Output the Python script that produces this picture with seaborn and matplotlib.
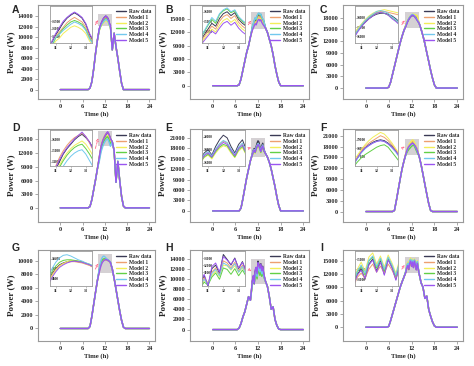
import numpy as np
import pandas as pd
import matplotlib
matplotlib.use("Agg")
import matplotlib.pyplot as plt
import seaborn as sns
from matplotlib.patches import Rectangle

# ---------------- data ----------------
HOURS_AM = [0, 5, 5.5, 6, 6.5, 7, 7.5, 8, 8.5, 9, 9.5, 10]
HOURS_WIN = [10.5, 10.75, 11, 11.25, 11.5, 11.75, 12, 12.25, 12.5, 12.75, 13, 13.25, 13.5]
HOURS_PM = [14, 14.5, 15, 15.5, 16, 16.5, 17, 17.5, 18, 18.5, 19, 24]

SERIES = ["Raw data", "Model 1", "Model 2", "Model 3", "Model 4", "Model 5"]
COLORS = ["#3a3a55", "#eda070", "#f2ee5a", "#62d046", "#72c8ee", "#9a55f0"]
PANEL_LETTERS = ["A", "B", "C", "D", "E", "F", "G", "H", "I"]
X_TICKS = [0, 6, 12, 18, 24]
INSET_X_TICKS = [11, 12, 13]

# Panel A
A_AM = [0, 0, 0, 0, 0, 0, 0, 300, 1500, 4000, 7000, 9500]
A_PM = [7600, 10800, 8200, 6000, 3500, 1200, 0, 0, 0, 0, 0, 0]
A_WIN = [
    [11600, 12100, 12600, 13000, 13400, 13700, 13900, 14050, 13900, 13700, 13300, 12600, 12200],
    [11500, 12000, 12500, 12800, 13100, 13400, 13600, 13750, 13600, 13450, 13100, 12500, 12100],
    [11300, 11800, 12200, 12400, 12700, 12900, 13100, 13200, 13100, 12950, 12700, 12200, 11900],
    [11400, 11900, 12400, 12700, 13000, 13250, 13450, 13550, 13450, 13300, 12950, 12400, 12000],
    [11500, 12000, 12450, 12650, 12900, 13100, 13300, 13450, 13350, 13200, 12900, 12350, 12000],
    [11700, 12200, 12700, 13100, 13500, 13750, 13950, 14100, 13950, 13750, 13350, 12700, 12250],
]
# Panel B
B_AM = [0, 0, 0, 0, 0, 200, 1500, 3500, 5500, 7500, 9000, 11000]
B_PM = [13000, 12000, 10500, 9000, 7000, 4500, 2500, 800, 0, 0, 0, 0]
B_WIN = [
    [13000, 13600, 14200, 14800, 14500, 15300, 15800, 16000, 15600, 15900, 15200, 14800, 14500],
    [12800, 13400, 14000, 14500, 14200, 15000, 15500, 15700, 15300, 15600, 14900, 14500, 14200],
    [12600, 13200, 13700, 14200, 13900, 14600, 15100, 15300, 14900, 15200, 14600, 14200, 13900],
    [13200, 13900, 14600, 15200, 14800, 15700, 16100, 16300, 15900, 16100, 15400, 15000, 14700],
    [13300, 14000, 14700, 15400, 15000, 15800, 16200, 16400, 16000, 16200, 15500, 15100, 14800],
    [12500, 13000, 13500, 14000, 13700, 14300, 14800, 15000, 14600, 14900, 14300, 13900, 13600],
]
# Panel C
C_AM = [0, 0, 0, 200, 1500, 3500, 5500, 7500, 9500, 11500, 13200, 14700]
C_PM = [16500, 15000, 13300, 11300, 9000, 6800, 4500, 2500, 800, 0, 0, 0]
C_WIN = [
    [16000, 16600, 17100, 17500, 17900, 18200, 18400, 18500, 18500, 18400, 18200, 17900, 17500],
    [16100, 16700, 17200, 17700, 18100, 18400, 18600, 18700, 18700, 18600, 18500, 18400, 18300],
    [16200, 16800, 17300, 17800, 18200, 18500, 18700, 18800, 18900, 18800, 18700, 18600, 18500],
    [15800, 16500, 17100, 17600, 18000, 18300, 18500, 18600, 18500, 18300, 18000, 17700, 17300],
    [15900, 16600, 17200, 17700, 18100, 18400, 18700, 18800, 18700, 18500, 18100, 17800, 17400],
    [15700, 16400, 17000, 17500, 17900, 18200, 18500, 18600, 18500, 18300, 17900, 17600, 17200],
]
# Panel D
D_AM = [0, 0, 0, 0, 0, 0, 0, 300, 1800, 4000, 6200, 8600]
D_PM = [14500, 12500, 5600, 10200, 6000, 2500, 400, 0, 0, 0, 0, 0]
D_WIN = [
    [11000, 12300, 13300, 14000, 14700, 15200, 15600, 16000, 16300, 16500, 16200, 15800, 15200],
    [11200, 12500, 13600, 14400, 15000, 15500, 15900, 16200, 16400, 16600, 16300, 15700, 15000],
    [10800, 12000, 13000, 13700, 14300, 14800, 15200, 15500, 15700, 15900, 15600, 15100, 14500],
    [10600, 11800, 12800, 13500, 14100, 14600, 15000, 15300, 15500, 15600, 15200, 14700, 14100],
    [10200, 11300, 12300, 13000, 13600, 14100, 14500, 14800, 15000, 15100, 14700, 14100, 13500],
    [11100, 12400, 13500, 14200, 14800, 15300, 15700, 16100, 16400, 16700, 16300, 15800, 15100],
]
# Panel E
E_AM = [0, 0, 0, 0, 0, 0, 800, 3500, 6500, 9500, 12000, 14500]
E_PM = [16500, 15500, 14000, 12000, 9500, 7000, 4000, 1500, 0, 0, 0, 0]
E_WIN = [
    [16500, 17500, 18000, 17200, 18500, 19500, 20200, 19800, 18500, 17500, 18800, 19500, 18000],
    [16300, 17200, 17600, 17000, 18000, 18800, 19300, 19000, 18000, 17200, 18300, 18900, 17600],
    [16000, 16800, 17200, 16600, 17500, 18200, 18600, 18400, 17500, 16800, 17800, 18300, 17200],
    [16100, 16900, 17300, 16800, 17700, 18400, 18800, 18600, 17700, 16900, 18000, 18500, 17300],
    [16400, 17300, 17700, 17100, 18100, 18900, 19400, 19100, 18100, 17300, 18400, 19000, 17700],
    [16200, 17100, 17500, 16900, 17900, 18600, 19100, 18800, 17900, 17100, 18200, 18700, 17500],
]
# Panel F
F_AM = [0, 0, 0, 0, 0, 0, 300, 3000, 6000, 9000, 11800, 14000]
F_PM = [15300, 13000, 10300, 7500, 4800, 2200, 300, 0, 0, 0, 0, 0]
F_WIN = [
    [16000, 16800, 17500, 18000, 18400, 18700, 18900, 19000, 18900, 18600, 18200, 17700, 17000],
    [16100, 16900, 17600, 18200, 18600, 18900, 19200, 19500, 19300, 18900, 18400, 17800, 17100],
    [16300, 17100, 17800, 18400, 18900, 19300, 19600, 19900, 19700, 19200, 18600, 17900, 17200],
    [15700, 16300, 16800, 17200, 17500, 17800, 18100, 18300, 18400, 18100, 17500, 16900, 16300],
    [15900, 16700, 17400, 17900, 18300, 18600, 18800, 18900, 18800, 18500, 18000, 17500, 16800],
    [16000, 16800, 17500, 18000, 18300, 18600, 18800, 18900, 18800, 18500, 18100, 17600, 16900],
]
# Panel G
G_AM = [0, 0, 0, 0, 0, 0, 0, 300, 1800, 3600, 5400, 7100]
G_PM = [8800, 7400, 5800, 4200, 2600, 1200, 200, 0, 0, 0, 0, 0]
G_WIN = [
    [8600, 9200, 9600, 9900, 10050, 10150, 10200, 10200, 10150, 10100, 10000, 9900, 9700],
    [8500, 9100, 9550, 9850, 10000, 10100, 10150, 10150, 10100, 10050, 9950, 9850, 9700],
    [8400, 9000, 9450, 9800, 10000, 10150, 10250, 10250, 10200, 10100, 10000, 9900, 9750],
    [8700, 9350, 9800, 10100, 10250, 10300, 10300, 10250, 10200, 10150, 10050, 9950, 9800],
    [8900, 9600, 10100, 10450, 10650, 10700, 10600, 10450, 10300, 10200, 10050, 9950, 9800],
    [8300, 8900, 9350, 9700, 9900, 10050, 10150, 10200, 10150, 10100, 10000, 9900, 9750],
]
# Panel H
H_AM = [0, 0, 0, 0, 0, 300, 1200, 2500, 3500, 5000, 6500, 5800]
H_PM = [9500, 8500, 6500, 4000, 4500, 2000, 800, 100, 0, 0, 0, 0]
H_WIN = [
    [9500, 10500, 9000, 11500, 12000, 10800, 13500, 12800, 12000, 13000, 11500, 12500, 11000],
    [9300, 10200, 9400, 11000, 11600, 10600, 12600, 12300, 11600, 12400, 11200, 12000, 10800],
    [9000, 9800, 9600, 10500, 11200, 10400, 12000, 11900, 11300, 11900, 11000, 11600, 10700],
    [8800, 9600, 9200, 10300, 10900, 10000, 11600, 11400, 10700, 11500, 10500, 11300, 10400],
    [9200, 10000, 9300, 10800, 11400, 10500, 12300, 12000, 11400, 12200, 11000, 11800, 10600],
    [9600, 10700, 9100, 11800, 12300, 11000, 13200, 12700, 12100, 12900, 11600, 12400, 11100],
]
# Panel I
I_AM = [0, 0, 0, 200, 1500, 3000, 4500, 6000, 7500, 9000, 10200, 11300]
I_PM = [12000, 10000, 9000, 6500, 7000, 4000, 2500, 1200, 300, 0, 0, 0]
I_WIN = [
    [12500, 13500, 14000, 13000, 14500, 15000, 13800, 14800, 13500, 15000, 14200, 13000, 14500],
    [12300, 13200, 13600, 13100, 14000, 14500, 13700, 14300, 13600, 14500, 13900, 13100, 14100],
    [12800, 14000, 14700, 13800, 15200, 15600, 14500, 15300, 14200, 15400, 14600, 13600, 15000],
    [12600, 13700, 14300, 13400, 14800, 15200, 14100, 15000, 13800, 15100, 14300, 13300, 14700],
    [12700, 13800, 14400, 13600, 14900, 15300, 14300, 15100, 14000, 15200, 14400, 13400, 14800],
    [12400, 13400, 13900, 13100, 14400, 14900, 13700, 14700, 13400, 14900, 14100, 12900, 14400],
]

PANELS = [
    (A_AM, A_WIN, A_PM), (B_AM, B_WIN, B_PM), (C_AM, C_WIN, C_PM),
    (D_AM, D_WIN, D_PM), (E_AM, E_WIN, E_PM), (F_AM, F_WIN, F_PM),
    (G_AM, G_WIN, G_PM), (H_AM, H_WIN, H_PM), (I_AM, I_WIN, I_PM),
]

Y_TICKS = [
    [0, 2000, 4000, 6000, 8000, 10000, 12000, 14000],
    [0, 3000, 6000, 9000, 12000, 15000],
    [0, 3000, 6000, 9000, 12000, 15000, 18000],
    [0, 3000, 6000, 9000, 12000, 15000],
    [0, 3000, 6000, 9000, 12000, 15000, 18000, 21000],
    [0, 3000, 6000, 9000, 12000, 15000, 18000, 21000],
    [0, 2000, 4000, 6000, 8000, 10000],
    [0, 2000, 4000, 6000, 8000, 10000, 12000, 14000],
    [0, 3000, 6000, 9000, 12000, 15000],
]
INSET_Y_TICKS = [
    [12500, 13000, 13500],
    [14000, 15000, 16000],
    [16000, 17000, 18000],
    [14000, 15000, 16000],
    [16000, 18000, 20000],
    [17000, 18000, 19000],
    [8800, 9600, 10400],
    [11000, 12000, 13000],
    [13000, 14000, 15000],
]

# ---------------- layout / style ----------------
Y_LIMS = [(-1800, 16200), (-3000, 18200), (-2800, 21200), (-3100, 17300), (-3200, 23600),
          (-2900, 22900), (-1850, 11600), (-2250, 15700), (-3100, 17400)]
INSET_Y_LIMS = [(12100, 14500), (12800, 16600), (15300, 19300), (13600, 16900), (15500, 21000),
                (15800, 20200), (8200, 11000), (9000, 14000), (12300, 15800)]

sns.set_theme(style="ticks")
plt.rcParams["font.family"] = ["Liberation Serif", "DejaVu Serif"]
plt.rcParams["font.weight"] = "bold"

W, H = 474, 366
fig = plt.figure(figsize=(W / 100, H / 100), dpi=100)
fig.patch.set_facecolor("white")
COLS = [(38, 155), (190, 309), (343, 463)]
ROWS = [(5, 99), (129, 222), (250, 341)]
LETTER_POS = [(12, 10), (165, 10), (320, 10), (12, 128), (165, 128), (320, 128),
              (12, 248), (165, 248), (320, 248)]

SPINE = "#9a9a9a"
palette = dict(zip(SERIES, COLORS))

for i, (am, win, pm) in enumerate(PANELS):
    r, c = divmod(i, 3)
    x0, x1 = COLS[c]
    y0, y1 = ROWS[r]
    ax = fig.add_axes([x0 / W, 1 - y1 / H, (x1 - x0) / W, (y1 - y0) / H])

    recs = []
    for s, name in enumerate(SERIES):
        ts = HOURS_AM + HOURS_WIN + HOURS_PM
        vs = am + win[s] + pm
        for t, v in zip(ts, vs):
            recs.append((name, t, v))
    df = pd.DataFrame(recs, columns=["Series", "Time", "Power"])

    ylo, yhi = INSET_Y_LIMS[i]
    bx0 = HOURS_WIN[0] - 0.3
    bx1 = HOURS_WIN[-1] + 0.4
    ax.add_patch(Rectangle((bx0, ylo), bx1 - bx0, yhi - ylo,
                           facecolor="#cbc6ca", edgecolor="none", alpha=0.8, zorder=0))

    sns.lineplot(data=df, x="Time", y="Power", hue="Series", hue_order=SERIES,
                 palette=palette, linewidth=1.0, estimator=None, ax=ax, zorder=2)

    ax.set_xlim(-6, 25.5)
    ax.set_ylim(*Y_LIMS[i])
    ax.set_xticks(X_TICKS)
    ax.set_yticks(Y_TICKS[i])
    ax.tick_params(labelsize=4.5, length=2, width=0.6, pad=1.5, color=SPINE)
    for lab in ax.get_xticklabels() + ax.get_yticklabels():
        lab.set_fontweight("bold")
    for sp in ax.spines.values():
        sp.set_color(SPINE)
        sp.set_linewidth(0.8)
    ax.set_xlabel("Time (h)", fontsize=4.8, fontweight="bold", labelpad=2)
    ax.set_ylabel("Power (W)", fontsize=6.5, fontweight="bold", labelpad=2)

    leg = ax.legend(loc="upper right", fontsize=4, frameon=False, handlelength=1.8,
                    labelspacing=0.15, borderaxespad=0.3, handletextpad=0.5)
    for txt in leg.get_texts():
        txt.set_fontweight("bold")
    for line in leg.get_lines():
        line.set_linewidth(1.0)

    # inset
    ins = ax.inset_axes([0.1, 0.6, 0.36, 0.39])
    dwin = df[(df["Time"] >= HOURS_WIN[0]) & (df["Time"] <= HOURS_WIN[-1])]
    sns.lineplot(data=dwin, x="Time", y="Power", hue="Series", hue_order=SERIES,
                 palette=palette, linewidth=0.7, estimator=None, ax=ins, legend=False)
    ins.set_xlim(10.6, 13.4)
    ins.set_ylim(ylo, yhi)
    ins.set_xticks(INSET_X_TICKS)
    ins.set_yticks(INSET_Y_TICKS[i])
    ins.set_xlabel("")
    ins.set_ylabel("")
    ins.tick_params(axis="x", labelsize=3, length=1.2, width=0.4, pad=1, color=SPINE)
    ins.tick_params(axis="y", labelsize=2.6, length=1.2, width=0.4, direction="in",
                    pad=-1.5, color=SPINE)
    for lab in ins.get_yticklabels():
        lab.set_horizontalalignment("left")
    for sp in ins.spines.values():
        sp.set_color(SPINE)
        sp.set_linewidth(0.6)
    ins.set_facecolor("white")

    ax.annotate("", xy=(bx0, (ylo + yhi) / 2), xycoords="data",
                xytext=(0.49, 0.79), textcoords="axes fraction",
                arrowprops=dict(arrowstyle="->", color="#ff6f8f", lw=0.6, ls="--",
                                shrinkA=0, shrinkB=0, mutation_scale=4))

    lx, ly = LETTER_POS[i]
    fig.text(lx / W, 1 - ly / H, PANEL_LETTERS[i], fontsize=7.5, fontweight="bold",
             family=["Liberation Sans", "DejaVu Sans"], va="center", ha="left")

fig.savefig("out.png", dpi=100, facecolor="white")
